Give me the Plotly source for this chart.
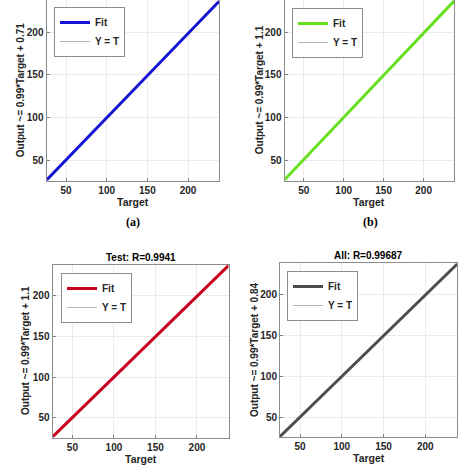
import plotly.graph_objects as go

# target range (ends of the fit line) and fitted outputs
target_ends = [26, 238]
fit_a = [26.45, 236.33]
fit_b = [26.84, 236.72]
fit_c = [26.84, 236.72]
fit_d = [26.58, 236.46]

tick_vals = [50, 100, 150, 200]
y_titles = ["Output ~= 0.99*Target + 0.71", "Output ~= 0.99*Target + 1.1",
            "Output ~= 0.99*Target + 1.1", "Output ~= 0.99*Target + 0.84"]
panel_titles = ["", "", "Test: R=0.9941", "All: R=0.99687"]
panel_labels = ["(a)", "(b)"]

W = H = 474
fnt = "Liberation Sans, Arial, sans-serif"

def px(v):
    return v / W

def py_(v):
    return 1 - v / H

# plot areas in pixels: x0, x1, ytop, ybottom
boxes = [(46.5, 219, 0, 180.5), (284.5, 454, 0, 180.5),
         (52.5, 228.5, 264.5, 437.5), (280, 457, 263, 437)]
colors = ["#1414d2", "#66e01c", "#c8001e", "#4d4d4d"]
fits = [fit_a, fit_b, fit_c, fit_d]
legend_pos = [(54, 7), (292, 8), (61, 273), (287, 271)]

fig = go.Figure()
layout = dict(width=W, height=H, margin=dict(l=0, r=0, t=0, b=0, autoexpand=False),
              paper_bgcolor="white", plot_bgcolor="white", showlegend=True,
              font=dict(family=fnt, size=10, color="#262626", weight="bold"))
annots = []

for i in range(4):
    n = "" if i == 0 else str(i + 1)
    x0, x1, yt, yb = boxes[i]
    lg = "legend" + n
    fig.add_trace(go.Scatter(x=target_ends, y=target_ends, mode="lines", name="Y = T",
                             line=dict(color="#b4b4b4", width=1), legend=lg,
                             legendrank=2, xaxis="x" + n, yaxis="y" + n))
    fig.add_trace(go.Scatter(x=target_ends, y=fits[i], mode="lines", name="Fit",
                             line=dict(color=colors[i], width=3), legend=lg,
                             legendrank=1, xaxis="x" + n, yaxis="y" + n))
    ax = dict(range=[26, 238], tickvals=tick_vals, showgrid=True, gridcolor="#ebebeb",
              ticks="inside", ticklen=3, tickcolor="#808080", showline=True,
              linecolor="#8c8c8c", linewidth=1, zeroline=False, automargin=False,
              tickfont=dict(size=10, color="#262626"))
    layout["xaxis" + n] = dict(ax, domain=[px(x0), px(x1)], anchor="y" + n,
                               mirror=(i >= 2))
    layout["yaxis" + n] = dict(ax, domain=[py_(yb), py_(yt)], anchor="x" + n,
                               mirror=True)
    lx, ly = legend_pos[i]
    layout[lg] = dict(x=px(lx), y=py_(ly), xanchor="left", yanchor="top",
                      bgcolor="white", bordercolor="#8c8c8c", borderwidth=1,
                      font=dict(size=10, color="#262626", family=fnt, weight="bold"),
                      tracegroupgap=0)
    xc = (x0 + x1) / 2
    ym = (yt + yb) / 2
    # y axis title
    ytx = [20, 259, 25, 254][i]
    annots.append(dict(x=px(ytx), y=py_(ym), text=y_titles[i], textangle=-90,
                       font=dict(size=10, color="#262626")))
    # x axis title
    annots.append(dict(x=px(xc), y=py_(yb + 21), text="Target",
                       font=dict(size=10.5, color="#262626")))
    if panel_titles[i]:
        annots.append(dict(x=px(xc), y=py_(yt - 7), text=panel_titles[i],
                           font=dict(size=10, color="#000000")))

for j, lab in enumerate(panel_labels):
    annots.append(dict(x=px([133, 370][j]), y=py_(222), text=lab,
                       font=dict(family="Liberation Serif, serif", size=12, color="#000000")))

for a in annots:
    a.update(xref="paper", yref="paper", xanchor="center", yanchor="middle",
             showarrow=False)
layout["annotations"] = annots
fig.update_layout(**layout)
fig.write_html("out.html", config={"displayModeBar": False},
               post_script="document.body.style.margin='0';")
